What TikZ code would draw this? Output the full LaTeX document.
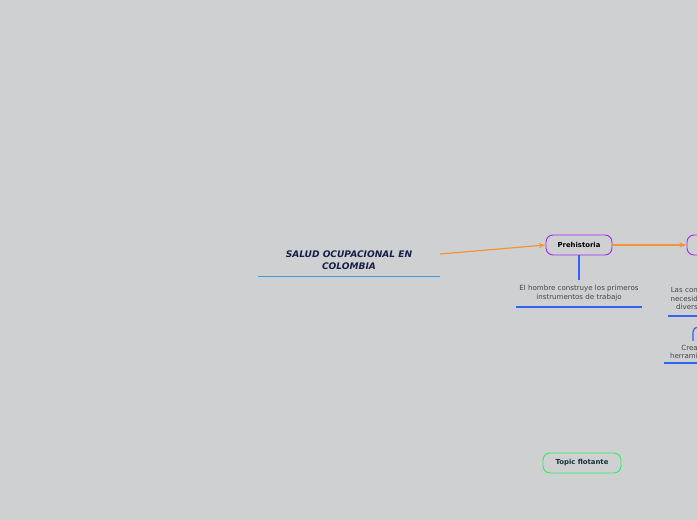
\documentclass[tikz,border=0pt]{standalone}
\usepackage{fontspec}
\setmainfont{DejaVu Sans}
\usetikzlibrary{arrows.meta}

\definecolor{canvas}{RGB}{207,208,210}
\definecolor{titlenavy}{RGB}{22,32,72}
\definecolor{topicpurple}{RGB}{160,40,240}
\definecolor{floatgreen}{RGB}{50,235,100}
\definecolor{flowor}{RGB}{242,150,50}
\definecolor{lineblue}{RGB}{50,100,245}
\definecolor{titleblue}{RGB}{70,150,225}
\definecolor{notegray}{RGB}{70,70,70}

\begin{document}
\begin{tikzpicture}[
  x=1bp, y=1bp,
  topic/.style={rectangle, rounded corners=7bp, draw=topicpurple, line width=0.9bp, minimum width=66bp, minimum height=20bp, inner sep=0pt, font=\bfseries\fontsize{6.9}{8}\selectfont},
  maintitle/.style={inner sep=0pt, align=center, minimum width=182bp, minimum height=32bp, text=titlenavy, font=\bfseries\itshape\fontsize{9.1}{12}\selectfont},
  note/.style={inner sep=0pt, align=center, text=notegray, font=\fontsize{7.1}{9}\selectfont},
  uline/.style={draw=lineblue, line width=1.5bp},
  link/.style={draw=lineblue, line width=1.2bp},
  flow/.style={-{Stealth[length=7bp, width=5bp]}, draw=flowor, line width=1.2bp},
  node distance=2cm
]
\useasboundingbox (0,0) rectangle (697,520);
\fill[canvas] (0,0) rectangle (697,520);
\clip (0,0) rectangle (697,520);

\node[maintitle] (title) at (349,260) {SALUD OCUPACIONAL EN\\COLOMBIA};
\node[topic, right of=title, node distance=230bp, yshift=15bp] (prehist) {Prehistoria};
\node[topic, right of=prehist, node distance=141bp] (nextera) {};
\node[note, below of=prehist, node distance=48.5bp, minimum width=125bp, minimum height=27bp] (hombre) {El hombre construye los primeros\\instrumentos de trabajo};
\node[note, anchor=east, text width=30bp, align=right, minimum height=35bp] (condic) at (698,221.5) {Las con\\necesid\\divers};
\node[note, anchor=east, text width=32bp, align=right, minimum height=22bp, font=\fontsize{7.1}{8.5}\selectfont] (crean) at (698,168) {Crea\\herrami};
\node[topic, draw=floatgreen, minimum width=78bp, text={rgb,255:red,25;green,50;blue,50}] (flotante) at (582,57) {Topic flotante};
\coordinate (creanup) at (705,193);

% underlines
\draw[uline, draw=titleblue, line width=1.2bp] (title.south west) -- (title.south east);
\draw[uline] (hombre.south west) -- (hombre.south east);
\draw[uline] (condic.south west) -- (condic.south east);
\draw[uline] ([xshift=-2bp]crean.south west) -- (crean.south east);

% connectors
\draw[flow] ([yshift=6bp]title.east) -- (prehist.west);
\draw[flow] (prehist.east) -- (nextera.west);
\draw[link] (prehist.south) -- (hombre.north);
\draw[link, rounded corners=5bp] ([xshift=-5bp]crean.north east) |- (creanup);
\end{tikzpicture}
\end{document}
